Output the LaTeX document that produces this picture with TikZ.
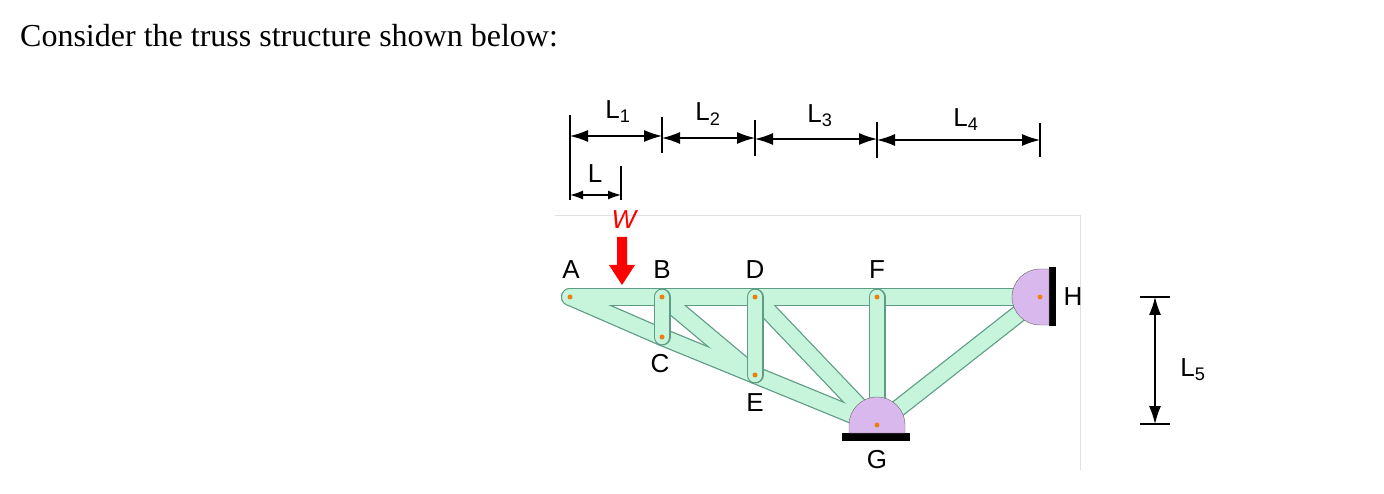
\documentclass[tikz,border=0pt]{standalone}
\usepackage{fontspec}
\setmainfont{Liberation Serif}
\newfontfamily\arial{Liberation Sans}
\usetikzlibrary{arrows.meta}
\definecolor{mint}{HTML}{C6F5DC}
\definecolor{mintline}{HTML}{5E9C86}
\definecolor{pinc}{HTML}{D9B8EE}
\tikzset{
 lbl/.style={font=\arial\fontsize{26}{26}\selectfont, inner sep=0pt},
 dim/.style={line width=1.3pt, {Latex[length=18pt,width=12pt]}-{Latex[length=18pt,width=12pt]}},
 tick/.style={line width=1.3pt},
 mo/.style={line width=18pt, mintline, line cap=round},
 mi/.style={line width=15.5pt, mint, line cap=round},
 pin/.style={circle, fill=orange!70!brown, minimum size=5pt, inner sep=0pt}
}
\begin{document}
\begin{tikzpicture}[x=1pt,y=-1pt]
\useasboundingbox (0,0) rectangle (1384,494);
\node[anchor=west, font=\fontsize{32}{32}\selectfont, inner sep=0pt] (title) at (20,36) {Consider the truss structure shown below:};
% faint frame
\draw[black!12, line width=0.8pt] (555,215) -- (1080,215) -- (1080,470);
% joints
\coordinate (A) at (570,297); \coordinate (B) at (662,297); \coordinate (C) at (662,337);
\coordinate (D) at (755,297); \coordinate (E) at (755,375); \coordinate (F) at (877,297);
\coordinate (G) at (877,425); \coordinate (H) at (1040,297);
% members outline
\foreach \p/\q in {A/H, A/C, C/E, E/G, B/E, D/G, H/G}{\draw[mo] (\p) -- (\q);}
\foreach \p/\q in {A/H, A/C, C/E, E/G, B/E, D/G, H/G}{\draw[mi] (\p) -- (\q);}
% vertical links
\foreach \p/\q in {B/C, D/E, F/G}{\draw[mo, line width=17pt] (\p) -- (\q); \draw[mi, line width=14.5pt] (\p) -- (\q);}
% supports
\fill[black] (842,433) rectangle (910,441);
\draw[black!60, fill=pinc] (849,433) -- (849,425) arc (180:360:28) -- (905,433) -- cycle;
\fill[black] (1049,267) rectangle (1056,326);
\draw[black!60, fill=pinc] (1049,269) -- (1040,269) arc (270:90:28) -- (1049,325) -- cycle;
\foreach \j in {A,B,C,D,E,F,G,H}{\node[pin] at (\j) {};}
% labels
\node[lbl] (lA) at (571,270) {A};
\node[lbl] (lB) at (662,270) {B};
\node[lbl] (lC) at (660,364) {C};
\node[lbl] (lD) at (755,270) {D};
\node[lbl] (lE) at (755,403) {E};
\node[lbl] (lF) at (877,270) {F};
\node[lbl] (lG) at (877,460) {G};
\node[lbl] (lH) at (1073,297) {H};
% load
\fill[red] (617,237) rectangle (627,265) (609,265) -- (635,265) -- (622,285) -- cycle;
\node[lbl, red, font=\arial\itshape\fontsize{26}{26}\selectfont] (W) at (624,220) {W};
% dimension ticks
\coordinate (t0a) at (570,115); \coordinate (t0b) at (570,200);
\coordinate (t1a) at (662,117); \coordinate (t1b) at (662,153);
\coordinate (t2a) at (755,120); \coordinate (t2b) at (755,156);
\coordinate (t3a) at (877,122); \coordinate (t3b) at (877,158);
\coordinate (t4a) at (1040,123); \coordinate (t4b) at (1040,157);
\coordinate (tLa) at (621,166); \coordinate (tLb) at (621,200);
\foreach \n in {0,1,2,3,4,L}{\draw[tick] (t\n a) -- (t\n b);}
\coordinate (d0) at (570,136); \coordinate (d1) at (662,136);
\coordinate (d1b) at (662,138); \coordinate (d2) at (755,138);
\coordinate (d2b) at (755,139); \coordinate (d3) at (877,139);
\coordinate (d3b) at (877,140); \coordinate (d4) at (1040,140);
\draw[dim] (d0) -- (d1); \draw[dim] (d1b) -- (d2); \draw[dim] (d2b) -- (d3); \draw[dim] (d3b) -- (d4);
\coordinate (dL0) at (570,195); \coordinate (dL1) at (621,195);
\draw[dim, {Latex[length=13pt,width=9pt]}-{Latex[length=13pt,width=9pt]}] (dL0) -- (dL1);
\node[lbl] (L1) at (618,112) {L\textsubscript{1}};
\node[lbl] (L2) at (708,114) {L\textsubscript{2}};
\node[lbl] (L3) at (820,116) {L\textsubscript{3}};
\node[lbl] (L4) at (966,120) {L\textsubscript{4}};
\node[lbl] (L) at (595,174) {L};
% L5
\coordinate (v1) at (1155,297); \coordinate (v2) at (1155,424);
\draw[tick] (1140,297) -- (1170,297); \draw[tick] (1140,424) -- (1170,424);
\draw[dim] (v1) -- (v2);
\node[lbl] (L5) at (1193,370) {L\textsubscript{5}};
\end{tikzpicture}
\end{document}
